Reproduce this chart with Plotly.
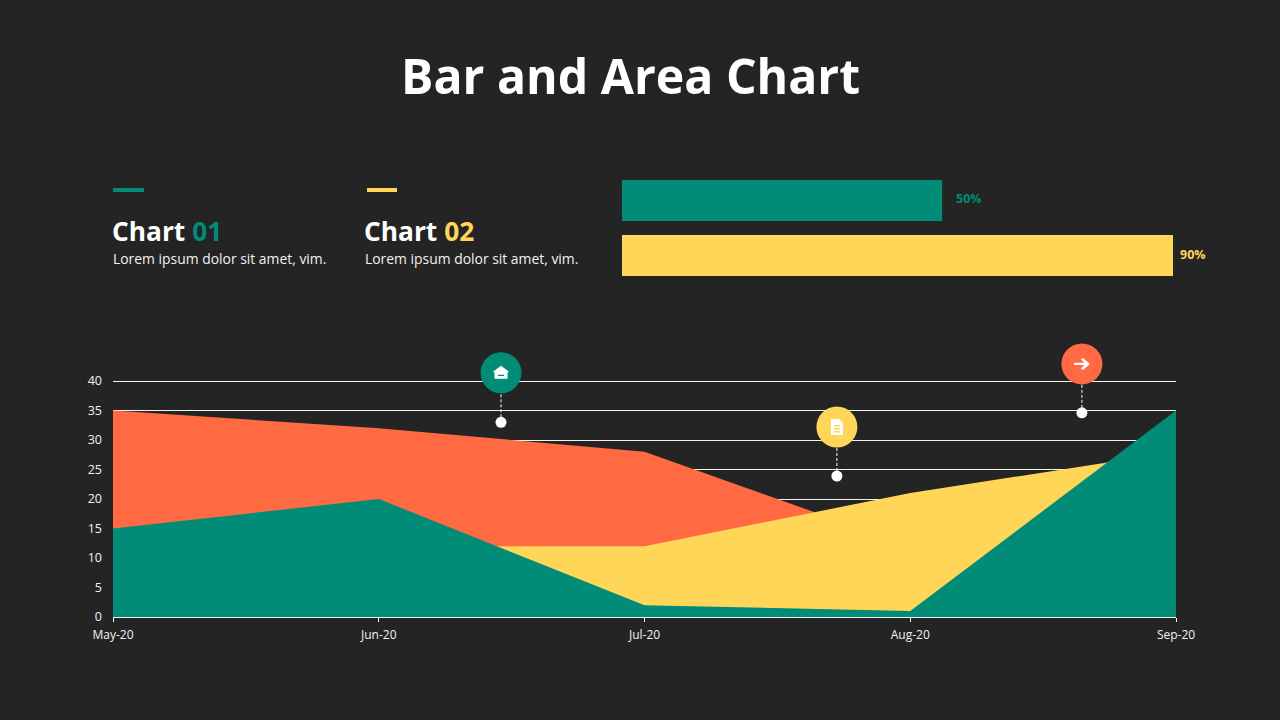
import plotly.graph_objects as go

WIDTH = 1280
HEIGHT = 720

BG = "#242424"
TEAL = "#008C77"
YELLOW = "#FFD658"
ORANGE = "#FF6A42"

months = ["May-20", "Jun-20", "Jul-20", "Aug-20", "Sep-20"]
month_pos = [0, 1, 2, 3, 4]
orange_values = [35, 32, 28, 12, 14]
yellow_values = [10, 12, 12, 21, 28]
teal_values = [15, 20, 2, 1, 35]
y_ticks = [0, 5, 10, 15, 20, 25, 30, 35, 40]

bar_names = ["Chart 01", "Chart 02"]
# drawn lengths in the picture are not proportional to the printed labels
bar_lengths = [58.1, 100]
bar_labels = ["50%", "90%"]

callout_x = [1.46, 2.724, 3.646]
callout_dot_y = [33, 23.9, 34.6]
callout_badge_y = [41.4, 32.2, 42.9]
callout_colors = [TEAL, YELLOW, ORANGE]


def px(x):
    return x / WIDTH


def py(y):
    return 1 - y / HEIGHT


fig = go.Figure()

# areas overlap, they are not stacked
for values, color in [(orange_values, ORANGE), (yellow_values, YELLOW), (teal_values, TEAL)]:
    fig.add_trace(go.Scatter(
        x=month_pos, y=values, mode="lines", fill="tozeroy",
        fillcolor=color, line=dict(width=0, color=color), hoverinfo="skip",
    ))

# dashed stems, then dots and badges
for x, dot, badge in zip(callout_x, callout_dot_y, callout_badge_y):
    fig.add_trace(go.Scatter(
        x=[x, x], y=[dot, badge], mode="lines",
        line=dict(color="white", width=1, dash="3px,2px"), hoverinfo="skip",
    ))
fig.add_trace(go.Scatter(
    x=callout_x, y=callout_dot_y, mode="markers",
    marker=dict(size=11, color="white"), hoverinfo="skip",
))
fig.add_trace(go.Scatter(
    x=callout_x, y=callout_badge_y, mode="markers",
    marker=dict(size=41, color=callout_colors), hoverinfo="skip",
))

fig.add_trace(go.Bar(
    x=bar_lengths, y=bar_names, orientation="h", xaxis="x2", yaxis="y2",
    width=0.745, marker=dict(color=[TEAL, YELLOW], line=dict(width=0)), hoverinfo="skip",
))

# icons inside the badges, pixel paths anchored on the badge centres
house = ("M -8 1 L 0 7 L 8 1 L 6.5 0 L 6.5 -6 L -6.5 -6 L -6.5 0 Z "
         "M -3 -2 L -3 -3.2 L 3 -3.2 L 3 -2 Z")
doc = ("M -6 8 L 2 8 L 6 4 L 6 -8 L -6 -8 Z "
       "M -3 2 L 3 2 L 3 0.5 L -3 0.5 Z M -3 -1 L 3 -1 L 3 -2.5 L -3 -2.5 Z "
       "M -3 -4 L 3 -4 L 3 -5.5 L -3 -5.5 Z")
arrow = ("M -8 1.2 L 2.5 1.2 L -1 4.5 L 1 6 L 8 0 L 1 -6 L -1 -4.5 L 2.5 -1.2 L -8 -1.2 Z")
icons = [house, doc, arrow]
shapes = []
for x, badge, path in zip(callout_x, callout_badge_y, icons):
    shapes.append(dict(
        type="path", path=path, xref="x", yref="y", xsizemode="pixel", ysizemode="pixel",
        xanchor=x, yanchor=badge, fillcolor="white", line=dict(width=0), layer="above",
    ))

# legend dashes
shapes.append(dict(type="rect", xref="paper", yref="paper", x0=px(113), x1=px(144),
                   y0=py(192), y1=py(188), fillcolor=TEAL, line=dict(width=0)))
shapes.append(dict(type="rect", xref="paper", yref="paper", x0=px(367), x1=px(397),
                   y0=py(192), y1=py(188), fillcolor=YELLOW, line=dict(width=0)))


def label(x, y, text, size, color="white", bold=False, anchor="left"):
    txt = "<b>" + text + "</b>" if bold else text
    return dict(x=px(x), y=py(y), xref="paper", yref="paper", text=txt, showarrow=False,
                xanchor=anchor, yanchor="middle", align=anchor,
                font=dict(family="Open Sans", size=size, color=color))


annotations = [
    label(630, 75, "Bar and Area Chart", 48.2, bold=True, anchor="center"),
    label(110, 231, 'Chart <span style="color:%s">01</span>' % TEAL, 26.3, bold=True),
    label(362, 231, 'Chart <span style="color:%s">02</span>' % YELLOW, 26.3, bold=True),
    label(110.5, 258, "Lorem ipsum dolor sit amet, vim.", 13.9, color="#F2F2F2"),
    label(362.5, 258, "Lorem ipsum dolor sit amet, vim.", 13.9, color="#F2F2F2"),
    label(954, 198, bar_labels[0], 12.5, color=TEAL, bold=True),
    label(1178, 254, bar_labels[1], 12.5, color=YELLOW, bold=True),
]

# y range runs past the last tick so the badges above 40 are still drawn
fig.update_layout(
    width=WIDTH, height=HEIGHT, autosize=False, showlegend=False,
    margin=dict(l=0, r=0, t=0, b=0),
    paper_bgcolor=BG, plot_bgcolor=BG,
    font=dict(family="Open Sans", color="#F2F2F2", size=12),
    shapes=shapes, annotations=annotations,
    xaxis=dict(
        domain=[px(113), px(1176)], range=[0, 4], tickmode="array",
        tickvals=month_pos, ticktext=months, showgrid=False, zeroline=False,
        showline=True, linecolor="#F2F2F2", linewidth=1, automargin=False,
        ticks="outside", ticklen=4, tickcolor="#F2F2F2", tickwidth=1, ticklabelstandoff=3,
        tickfont=dict(size=12, color="#F2F2F2"), anchor="y",
    ),
    yaxis=dict(
        domain=[py(617), py(322)], range=[0, 50], tickmode="array", tickvals=y_ticks,
        showgrid=True, gridcolor="#F2F2F2", gridwidth=1, zeroline=False, showline=False,
        ticks="", ticklabelstandoff=10, automargin=False,
        tickfont=dict(size=12.5, color="#F2F2F2"), anchor="x",
    ),
    xaxis2=dict(
        domain=[px(622), px(1173)], range=[0, 100], visible=False, anchor="y2", automargin=False,
    ),
    yaxis2=dict(
        domain=[py(283), py(173)], autorange="reversed", visible=False, anchor="x2", automargin=False,
    ),
)

fig.write_html(
    "out.html",
    config=dict(displayModeBar=False),
    post_script="document.body.style.margin='0';document.body.style.overflow='hidden';document.body.style.background='%s';" % BG,
)
